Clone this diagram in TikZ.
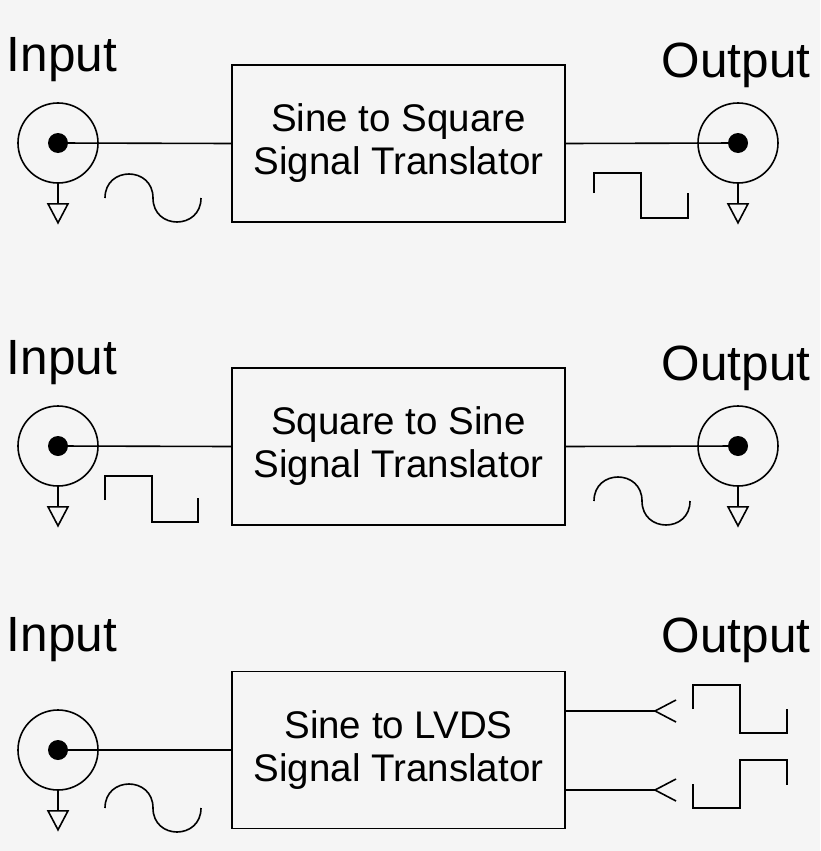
\documentclass[tikz,border=0pt]{standalone}
\usepackage{fontspec}
\setmainfont{Liberation Sans}
\usetikzlibrary{positioning}
\tikzset{
  wire/.style={line width=1.6pt},
  block/.style={draw,line width=1.6pt,minimum width=333pt,minimum height=157pt,align=center,font=\fontsize{38.5}{43}\selectfont,inner sep=0pt},
  lbl/.style={font=\fontsize{49.5}{55}\selectfont,inner sep=0pt},
  jack/.style={circle,draw,line width=1.6pt,minimum size=80pt,inner sep=0pt},
  pin/.style={circle,fill=black,minimum size=20pt,inner sep=0pt},
}
\newcommand{\gnd}[1]{%
  \draw[wire] (#1.south) -- ++(0,20) coordinate (#1g);
  \draw[wire] (#1g) ++(-10,0) -- ++(20,0) -- ++(-10,19) -- cycle;}
\newcommand{\sine}[2]{%
  \draw[wire] (#1,#2) .. controls (#1,#2-32) and (#1+48,#2-32) .. (#1+48,#2)
    .. controls (#1+48,#2+32) and (#1+96,#2+32) .. (#1+96,#2);}
\begin{document}
\begin{tikzpicture}[x=1pt,y=-1pt]
\fill[white!96!black] (0,0) rectangle (820,851);

%Zeile 1
\node[lbl] (in1) at (62,60) {Input};
\node[lbl] (out1) at (736,65) {Output};
\node[block] (b1) at (398.5,143.5) {Sine to Square\\Signal Translator};
\node[jack] (j1) at (58,143) {};
\node[pin] (p1) at (58,143) {};
\node[jack] (k1) at (738,143) {};
\node[pin] (q1) at (738,143) {};
\draw[wire] (p1) -- (b1.west);
\draw[wire] (b1.east) -- (q1);
\gnd{j1}
\gnd{k1}
\sine{105}{198}
\draw[wire] (594,193) -- (594,173) -- (641,173) -- (641,218) -- (688,218) -- (688,193);

%Zeile 2
\node[lbl] (in2) at (62,363) {Input};
\node[lbl] (out2) at (736,368) {Output};
\node[block] (b2) at (398.5,446.5) {Square to Sine\\Signal Translator};
\node[jack] (j2) at (58,446) {};
\node[pin] (p2) at (58,446) {};
\node[jack] (k2) at (738,446) {};
\node[pin] (q2) at (738,446) {};
\draw[wire] (p2) -- (b2.west);
\draw[wire] (b2.east) -- (q2);
\gnd{j2}
\gnd{k2}
\draw[wire] (105,500) -- (105,476) -- (152,476) -- (152,522) -- (198,522) -- (198,498);
\sine{594}{501}

%Zeile 3
\node[lbl] (in3) at (62,640) {Input};
\node[lbl] (out3) at (736,640) {Output};
\node[block] (b3) at (398.5,750) {Sine to LVDS\\Signal Translator};
\node[jack] (j3) at (58,750) {};
\node[pin] (p3) at (58,750) {};
\draw[wire] (p3) -- (b3.west);
\gnd{j3}
\sine{105}{808}
\coordinate (r1) at (655,711);
\coordinate (r2) at (655,790);
\draw[wire] (b3.east |- r1) -- (r1);
\draw[wire] (b3.east |- r2) -- (r2);
\draw[wire] (676,700) -- (r1) -- (676,722);
\draw[wire] (676,779) -- (r2) -- (676,801);
\draw[wire] (693,709) -- (693,685) -- (740,685) -- (740,733) -- (787,733) -- (787,709);
\draw[wire] (693,784) -- (693,808) -- (740,808) -- (740,760) -- (787,760) -- (787,785);
\end{tikzpicture}
\end{document}
